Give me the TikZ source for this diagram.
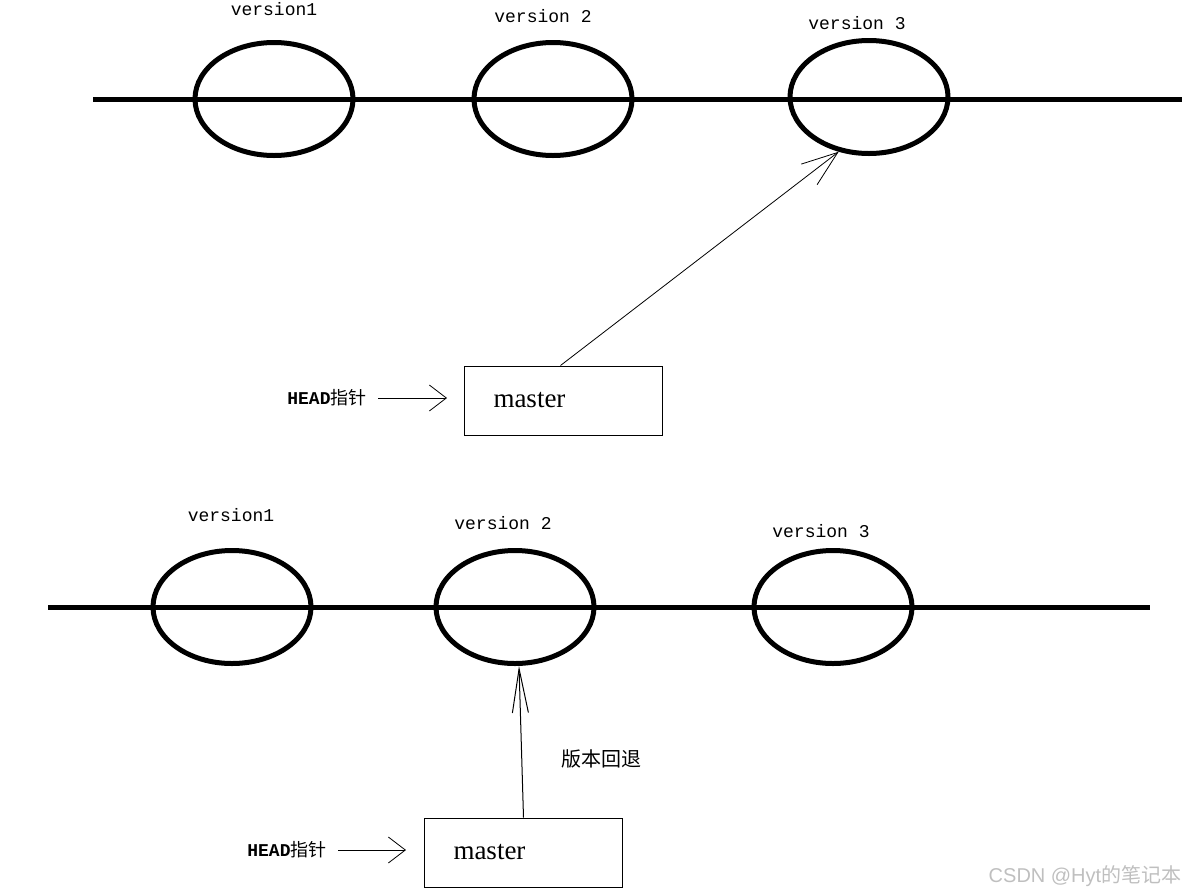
\documentclass[tikz,border=0pt]{standalone}
\usepackage{fontspec}
\setmainfont{Liberation Serif}
\newfontfamily\monof{Liberation Mono}
\newfontfamily\cjk{Noto Sans CJK SC}
\newfontfamily\wmf{Liberation Sans}
\usetikzlibrary{shapes.geometric,arrows.meta}
\begin{document}
\begin{tikzpicture}[x=1pt,y=-1pt,
  ver/.style={draw,line width=5pt,ellipse,minimum width=158pt,minimum height=113pt,inner sep=0pt},
  timeline/.style={line width=5pt},
  lbl/.style={font=\monof\fontsize{18}{18}\selectfont},
  mbox/.style={draw,line width=1pt,minimum height=69pt,inner xsep=29pt,text width=140pt,align=left,anchor=west,font=\fontsize{27}{27}\selectfont},
  headlbl/.style={font=\monof\bfseries\fontsize{18}{18}\selectfont},
  cjklbl/.style={font=\cjk\fontsize{20}{20}\selectfont},
  ptr/.style={line width=0.8pt,-{Straight Barb[length=17pt,width=26pt,line width=0.8pt]}},
  bigptr/.style={line width=0.8pt,-{Straight Barb[length=36pt,width=26pt,line width=0.8pt]}},
  upptr/.style={line width=1pt,-{Straight Barb[length=44pt,width=16pt,line width=1pt]}},
  wm/.style={text=black!25,font=\wmf\fontsize{20}{20}\selectfont}
]
\useasboundingbox (0,0) rectangle (1192,895);

% ---------- top ----------
\coordinate (t0) at (93,99);
\coordinate (t1) at (1182,99);
\draw[timeline] (t0) -- (t1);
\node[ver] (v11) at (274,99) {};
\node[ver] (v12) at (553,99) {};
\node[ver] (v13) at (869,97) {};
\node[lbl] (l11) at (274,9) {version1};
\node[lbl] (l12) at (543,16) {version 2};
\node[lbl] (l13) at (857,23) {version 3};

\node[mbox] (m1) at (464,400.5) {master};
\node[headlbl] (h1) at (327,398) {HEAD{\cjk\mdseries 指针}};
\coordinate (h1e) at (447,398);
\draw[ptr] (h1.east) ++(8,0) -- (h1e);
\draw[bigptr] ([xshift=-3pt]m1.north) -- (v13.241);

% ---------- bottom ----------
\coordinate (b0) at (48,607);
\coordinate (b1) at (1150,607);
\draw[timeline] (b0) -- (b1);
\node[ver] (v21) at (232,607) {};
\node[ver] (v22) at (515,607) {};
\node[ver] (v23) at (833,607) {};
\node[lbl] (l21) at (231,515) {version1};
\node[lbl] (l22) at (503,523) {version 2};
\node[lbl] (l23) at (821,531) {version 3};

\node[mbox] (m2) at (424,852.5) {master};
\node[headlbl] (h2) at (287,850) {HEAD{\cjk\mdseries 指针}};
\coordinate (h2e) at (406,850);
\draw[ptr] (h2.east) ++(8,0) -- (h2e);
\draw[upptr] (m2.north) -- ([xshift=4pt]v22.south);
\node[cjklbl] (rb) at (601,759) {版本回退};

\node[wm] (wmk) at (1085,876) {CSDN @Hyt{\cjk 的笔记本}};
\end{tikzpicture}
\end{document}
